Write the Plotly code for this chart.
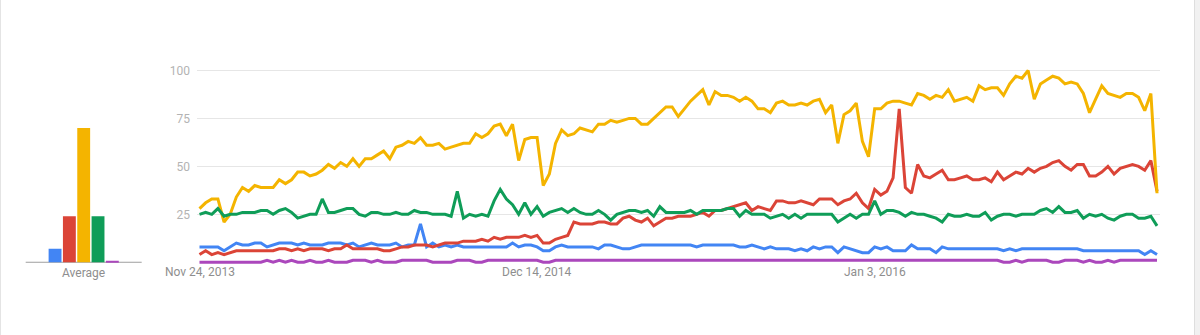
import pandas as pd
import plotly.graph_objects as go

W, H = 1200, 335

# Weekly interest, Nov 24 2013 onward (157 weeks)
start_date = "2013-11-24"
n_weeks = 157

blue_vals = [
    8, 8, 8, 8, 6, 8, 10, 9, 9, 10, 10, 8, 9, 10, 10, 10, 9, 10, 9, 9, 9, 10, 10, 10, 9, 10, 8, 9, 10, 9, 9,
    9, 10, 8, 9, 9, 20, 8, 10, 8, 9, 8, 9, 8, 8, 8, 8, 8, 8, 8, 8, 10, 8, 9, 9, 8, 6, 6, 8, 9, 8, 8, 8,
    8, 8, 7, 9, 9, 8, 7, 7, 8, 9, 9, 9, 9, 9, 9, 9, 9, 9, 8, 9, 9, 9, 9, 9, 9, 8, 8, 9, 8, 7, 8, 7,
    7, 7, 6, 7, 6, 8, 7, 8, 8, 5, 8, 7, 6, 5, 5, 8, 7, 8, 6, 6, 6, 9, 7, 7, 7, 5, 8, 7, 7, 7, 7, 7,
    7, 7, 7, 7, 6, 7, 6, 7, 7, 7, 7, 7, 7, 7, 7, 7, 7, 6, 6, 6, 6, 6, 6, 6, 6, 6, 6, 4, 6, 4,
]

red_vals = [
    4, 6, 4, 5, 4, 5, 6, 6, 6, 6, 6, 6, 6, 7, 7, 6, 7, 6, 7, 7, 7, 6, 7, 7, 9, 7, 7, 7, 7, 7, 6,
    6, 7, 8, 8, 9, 9, 9, 8, 9, 10, 10, 10, 11, 11, 11, 12, 11, 13, 12, 13, 13, 13, 14, 13, 14, 10, 10, 12, 13, 14, 21, 20,
    20, 20, 21, 21, 20, 20, 23, 24, 22, 21, 23, 19, 21, 23, 23, 24, 24, 24, 25, 26, 24, 27, 27, 28, 29, 30, 31, 27, 29, 28, 27, 32,
    32, 31, 31, 32, 31, 30, 33, 33, 33, 30, 32, 33, 36, 31, 28, 38, 35, 37, 44, 80, 39, 36, 51, 45, 44, 46, 48, 43, 43, 44, 45, 43,
    43, 44, 42, 47, 43, 45, 47, 46, 49, 47, 49, 50, 52, 53, 50, 48, 51, 51, 45, 45, 47, 50, 46, 49, 50, 51, 50, 48, 53, 37,
]

yellow_vals = [
    28, 31, 33, 33, 21, 25, 34, 39, 37, 40, 39, 39, 39, 43, 41, 43, 47, 47, 45, 46, 48, 51, 49, 52, 50, 54, 50, 54, 54, 56, 58, 54,
    60, 61, 63, 62, 65, 61, 61, 62, 59, 60, 61, 62, 62, 67, 65, 67, 71, 72, 66, 72, 53, 64, 65, 65, 40, 46, 62, 69, 66, 67, 70,
    69, 68, 72, 72, 74, 73, 74, 75, 75, 72, 72, 75, 78, 81, 81, 76, 80, 84, 87, 90, 82, 89, 87, 87, 86, 84, 86, 84, 80, 80, 78, 83,
    84, 82, 82, 83, 82, 84, 85, 78, 82, 62, 77, 79, 83, 63, 55, 80, 80, 83, 84, 84, 83, 82, 88, 87, 85, 87, 86, 90, 84, 85, 86, 84,
    92, 90, 91, 91, 87, 93, 97, 96, 100, 85, 93, 95, 97, 96, 93, 94, 93, 88, 78, 85, 92, 88, 87, 86, 88, 88, 86, 79, 88, 36,
]

green_vals = [
    25, 26, 25, 28, 24, 25, 25, 26, 26, 26, 27, 27, 25, 27, 28, 26, 23, 24, 25, 25, 33, 26, 26, 27, 28, 28, 25, 24, 26, 26, 25,
    25, 26, 25, 25, 27, 26, 26, 25, 25, 25, 24, 37, 23, 25, 24, 25, 24, 32, 38, 33, 30, 25, 31, 25, 29, 24, 26, 27, 28, 26, 28, 26,
    25, 25, 27, 25, 22, 25, 26, 27, 27, 26, 27, 24, 29, 26, 26, 26, 26, 27, 25, 27, 27, 27, 27, 28, 28, 24, 27, 25, 25, 25, 23, 24,
    25, 23, 25, 23, 25, 25, 25, 25, 25, 21, 23, 25, 23, 25, 25, 32, 25, 27, 27, 26, 24, 26, 25, 25, 24, 23, 21, 25, 24, 24, 25, 24,
    24, 26, 22, 24, 25, 25, 24, 25, 25, 25, 27, 28, 26, 29, 26, 26, 27, 23, 25, 24, 25, 23, 22, 24, 25, 25, 23, 23, 24, 19,
]

purple_vals = [
    0, 0, 0, 0, 0, 0, 0, 0, 0, 0, 0,
    1, 0, 1, 0, 1, 0, 0, 1, 0, 0, 1, 0, 0, 0, 1, 1, 1, 0, 1, 0, 0, 0, 1, 1, 1, 1, 1, 0, 0, 0, 0, 1, 1, 1, 0, 0,
    1, 1, 1, 1, 1, 1, 1, 1, 1, 0, 0,
    1, 1, 1, 1, 1, 1, 1, 1, 1, 1, 1, 1, 1, 1, 1, 1, 1, 1, 1, 1, 1, 1, 1, 1, 1, 1, 1, 1, 1, 1, 1, 1, 1, 1, 1, 1, 1,
    1, 1, 1, 1, 1, 1, 1, 1, 1, 1, 1, 1, 1, 1, 1, 1, 1, 1, 1, 1, 1, 1, 1, 1, 1, 1, 1, 1, 1, 1, 1, 1, 1, 1, 1, 1,
    0, 0, 1, 0, 1, 1, 1, 1, 0, 0, 1, 1, 1, 0, 1, 0, 0, 1, 0,
    1, 1, 1, 1, 1, 1, 1,
]

# Average over the whole period, one bar per term
avg_vals = [7, 24, 70, 24, 0.7]

series_colors = ["#4285F4", "#DB4437", "#F4B400", "#0F9D58", "#AB47BC"]

# Date tick labels under the time axis
tick_dates = ["2013-11-24", "2014-12-14", "2016-01-03"]
tick_text = ["Nov 24, 2013", "Dec 14, 2014", "Jan 3, 2016"]
y_ticks = [25, 50, 75, 100]

weeks = pd.date_range(start_date, periods=n_weeks, freq="7D")


def fx(p):
    return p / W


def fy(p):
    return 1 - p / H


FONT = "Roboto"
Y_RANGE = [-2, 104]
Y_DOMAIN = [fy(266.1), fy(62.8)]

fig = go.Figure()

all_series = [blue_vals, red_vals, yellow_vals, green_vals, purple_vals]
for vals, color in zip(all_series, series_colors):
    fig.add_trace(go.Scatter(
        x=weeks, y=vals, mode="lines",
        line=dict(color=color, width=3),
        xaxis="x", yaxis="y", showlegend=False, hoverinfo="skip",
    ))

fig.add_trace(go.Bar(
    x=list(range(len(avg_vals))), y=avg_vals,
    marker=dict(color=series_colors, line=dict(width=0)),
    width=0.9, xaxis="x2", yaxis="y2", showlegend=False, hoverinfo="skip",
))

x_start = weeks[0] - pd.Timedelta(days=2.85)
x_end = weeks[-1] + pd.Timedelta(days=3.4)

fig.update_layout(
    width=W, height=H,
    margin=dict(l=0, r=0, t=0, b=0),
    paper_bgcolor="white", plot_bgcolor="white",
    font=dict(family=FONT, size=12),
    xaxis=dict(
        domain=[fx(197), fx(1160)], type="date", range=[x_start, x_end],
        showgrid=False, showticklabels=False, zeroline=False, showline=False,
        fixedrange=True,
    ),
    yaxis=dict(
        domain=Y_DOMAIN, range=Y_RANGE, tickvals=y_ticks,
        showgrid=True, gridcolor="#e6e6e6", gridwidth=1,
        zeroline=False, showline=False, ticks="",
        tickfont=dict(family=FONT, size=12, color="#b3b3b3"),
        ticklabelstandoff=6, anchor="x",
    ),
    xaxis2=dict(
        domain=[fx(25.7), fx(141.7)], range=[-2.05, 6.05], visible=False,
        anchor="y2",
    ),
    yaxis2=dict(
        domain=Y_DOMAIN, range=Y_RANGE, visible=False, anchor="x2",
    ),
)

# Baseline under the average bars
fig.add_shape(type="line", xref="x2 domain", yref="y2", x0=0, x1=1, y0=0, y1=0,
              line=dict(color="#9e9e9e", width=1), layer="below")

# Card edges
fig.add_shape(type="line", xref="paper", yref="paper", x0=fx(0.5), x1=fx(0.5), y0=0, y1=1,
              line=dict(color="#e4e4e4", width=1))
fig.add_shape(type="rect", xref="paper", yref="paper", x0=fx(1194.5), x1=1, y0=0, y1=1,
              fillcolor="#f1f1f1", line=dict(width=0))
fig.add_shape(type="line", xref="paper", yref="paper", x0=fx(1194.5), x1=fx(1194.5), y0=0, y1=1,
              line=dict(color="#dedede", width=1))

for d, t in zip(tick_dates, tick_text):
    fig.add_annotation(x=d, xref="x", y=fy(271.7), yref="paper", text=t,
                       showarrow=False, xanchor="center", yanchor="middle",
                       font=dict(family=FONT, size=12, color="#8e8e8e"))

fig.add_annotation(x=fx(83.5), xref="paper", y=fy(272.7), yref="paper", text="Average",
                   showarrow=False, xanchor="center", yanchor="middle",
                   font=dict(family=FONT, size=12, color="#8e8e8e"))

fig.write_html("out.html")
